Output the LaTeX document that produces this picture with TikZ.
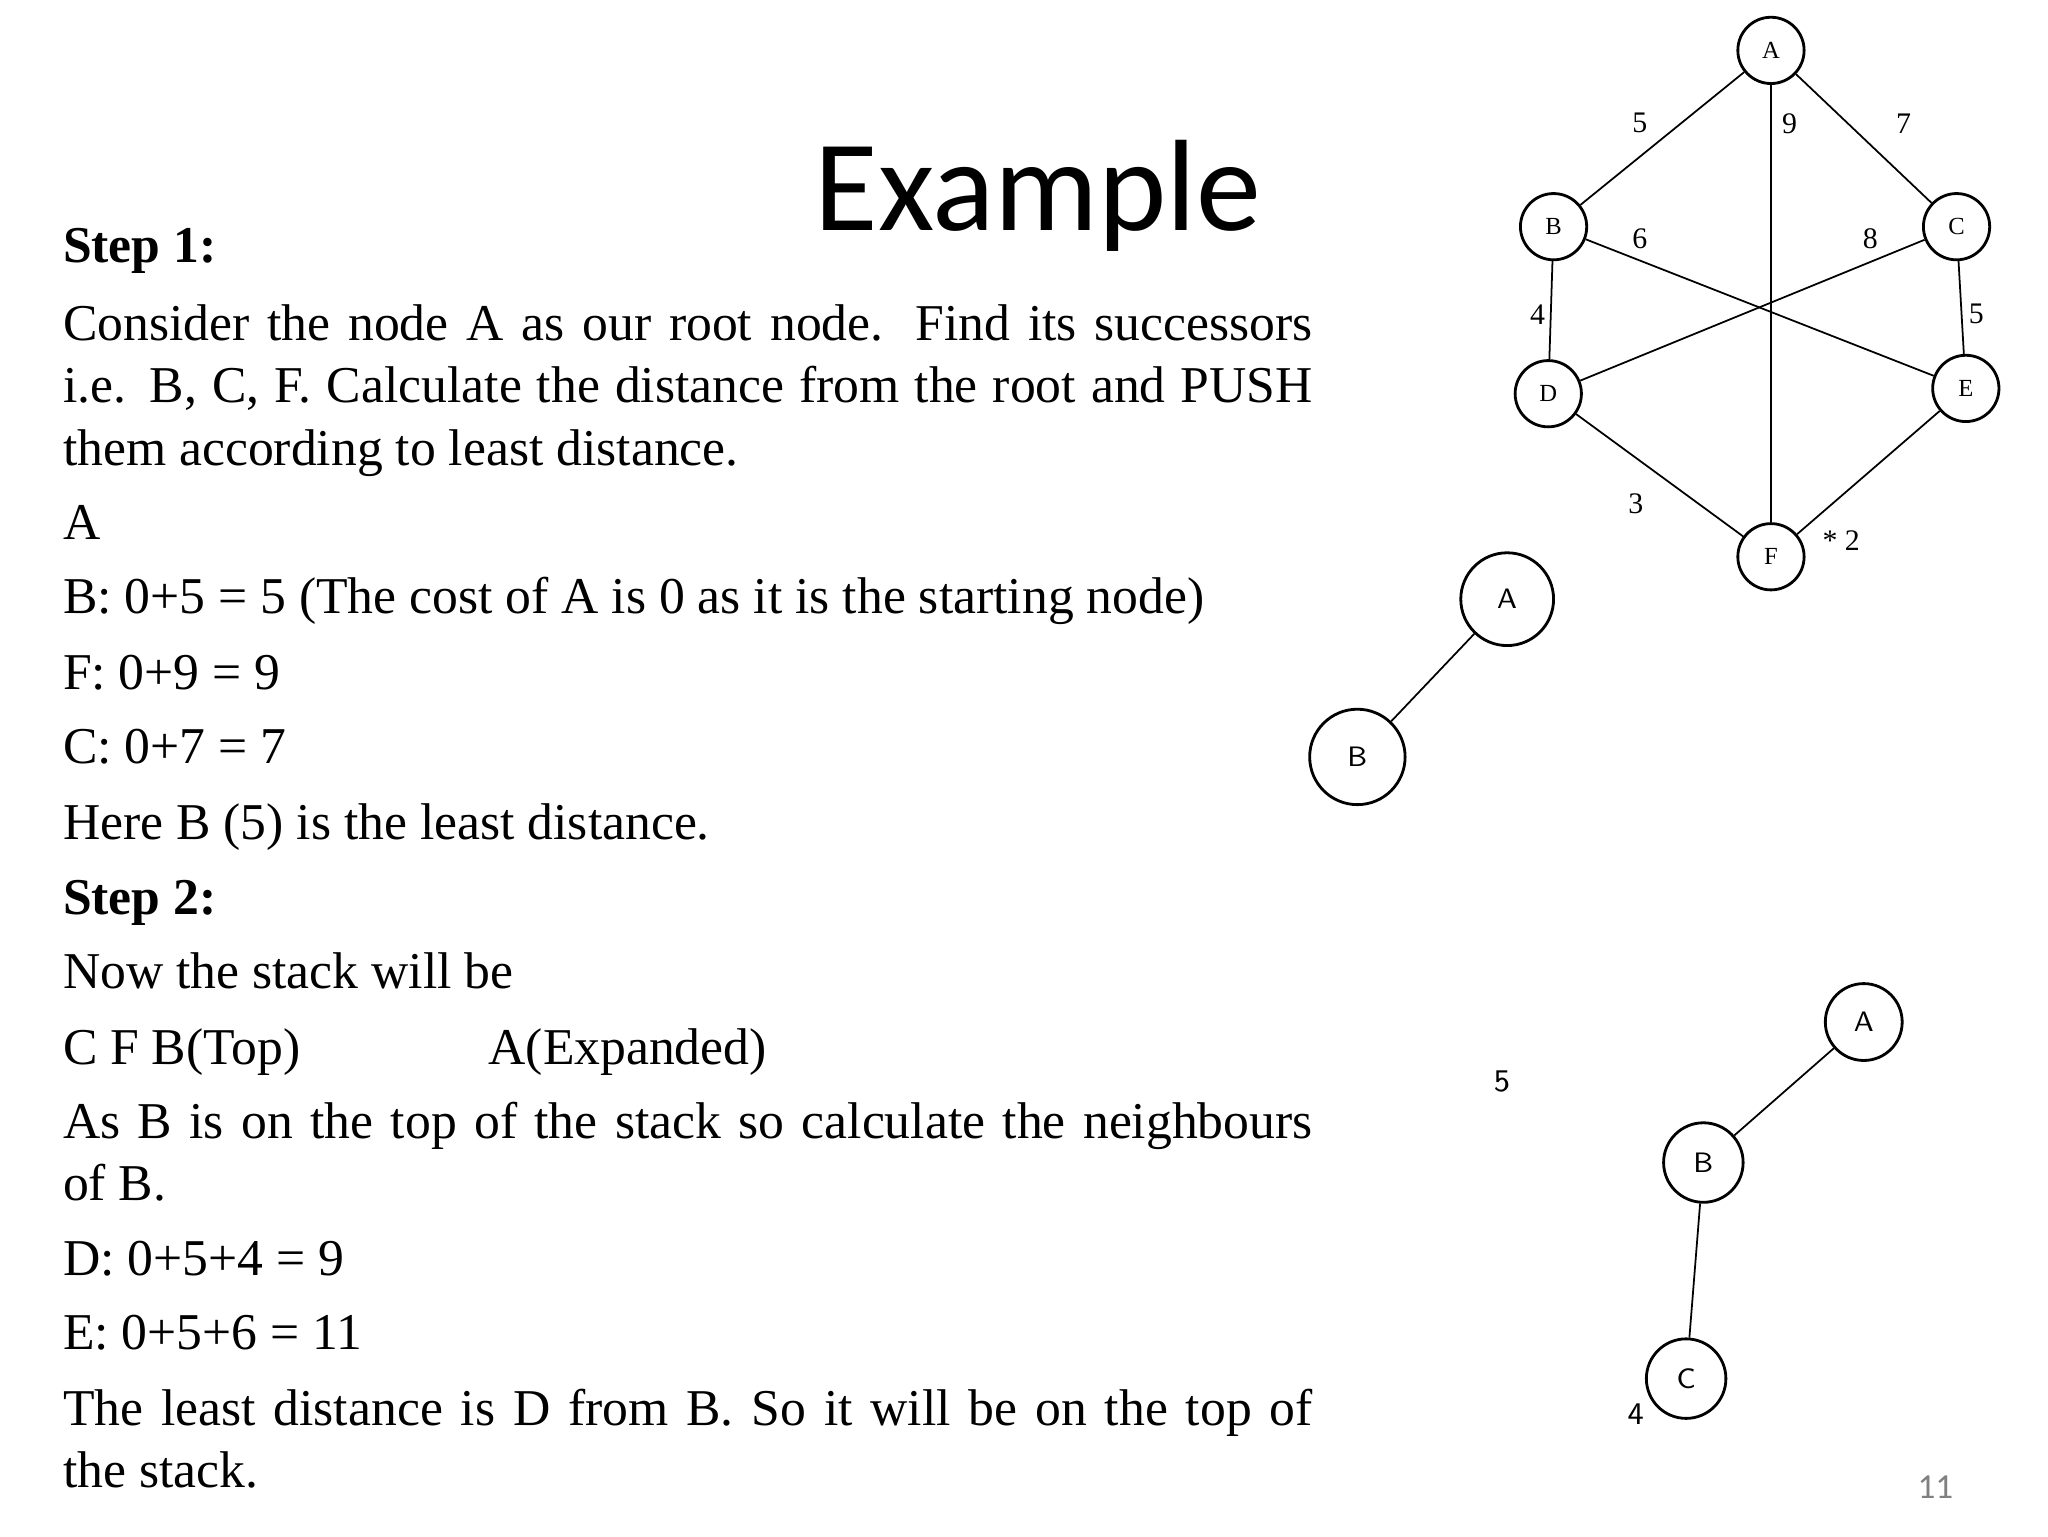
\documentclass[tikz,border=0pt]{standalone}
\usepackage{fontspec}
\setmainfont{Liberation Serif}
\newfontfamily\titlefont{Carlito}
\begin{document}
\begin{tikzpicture}[x=0.013256cm,y=-0.013256cm,
  txt/.style={anchor=base west,inner sep=0pt,font=\fontsize{14.7}{17}\selectfont},
  gn/.style={circle,draw,thick,minimum size=50*0.013256cm,inner sep=0pt,font=\fontsize{7}{8}\selectfont},
  tn/.style={circle,draw,thick,inner sep=0pt,font=\sffamily\fontsize{8}{9}\selectfont},
  el/.style={font=\fontsize{8.5}{9}\selectfont,inner sep=1pt},
  ed/.style={draw,line width=0.5pt}]
\useasboundingbox (0,0) rectangle (1545,1159);
\node[inner sep=0pt,font=\titlefont\fontsize{37}{40}\selectfont] (title) at (783,148) {Example};
\def\W{12.5cm}
\node[txt] (s1) at (47,198) {\textbf{Step 1:}};
\node[txt] (l1) at (47,257) {\makebox[\W][s]{Consider the node A as our root node. Find its successors}};
\node[txt] (l2) at (47,304) {\makebox[\W][s]{i.e. B, C, F. Calculate the distance from the root and PUSH}};
\node[txt] (l3) at (47,351) {them according to least distance.};
\node[txt] (l4) at (47,407) {A};
\node[txt] (l5) at (47,463) {B: 0+5 = 5 (The cost of A is 0 as it is the starting node)};
\node[txt] (l6) at (47,520) {F: 0+9 = 9};
\node[txt] (l7) at (47,576) {C: 0+7 = 7};
\node[txt] (l8) at (47,633) {Here B (5) is the least distance.};
\node[txt] (s2) at (47,690) {\textbf{Step 2:}};
\node[txt] (l9) at (47,746) {Now the stack will be};
\node[txt] (l10) at (47,803) {C F B(Top)};
\node[txt] (l10b) at (368,803) {A(Expanded)};
\node[txt] (l11) at (47,859) {\makebox[\W][s]{As B is on the top of the stack so calculate the neighbours}};
\node[txt] (l12) at (47,906) {of B.};
\node[txt] (l13) at (47,962) {D: 0+5+4 = 9};
\node[txt] (l14) at (47,1018) {E: 0+5+6 = 11};
\node[txt] (l15) at (47,1075) {\makebox[\W][s]{The least distance is D from B. So it will be on the top of}};
\node[txt] (l16) at (47,1122) {the stack.};
% graph
\node[gn] (A) at (1336,38) {A};
\node[gn] (B) at (1172,171) {B};
\node[gn] (C) at (1476,171) {C};
\node[gn] (D) at (1168,297) {D};
\node[gn] (E) at (1483,293) {E};
\node[gn] (F) at (1336,420) {F};
\draw[ed] (A) -- (B); \draw[ed] (A) -- (F); \draw[ed] (A) -- (C);
\draw[ed] (B) -- (E); \draw[ed] (C) -- (D); \draw[ed] (B) -- (D);
\draw[ed] (C) -- (E); \draw[ed] (D) -- (F); \draw[ed] (E) -- (F);
\node[el] (w1) at (1237,93) {5};
\node[el] (w2) at (1350,93) {9};
\node[el] (w3) at (1436,93) {7};
\node[el] (w4) at (1237,180) {6};
\node[el] (w5) at (1411,180) {8};
\node[el] (w6) at (1160,237) {4};
\node[el] (w7) at (1491,237) {5};
\node[el] (w8) at (1234,380) {3};
\node[el] (w9) at (1389,408) {* 2};
% tree 2
\node[tn,minimum size=70*0.013256cm] (A2) at (1137,452) {A};
\node[tn,minimum size=72*0.013256cm] (B2) at (1024,571) {B};
\draw[ed] (A2) -- (B2);
% tree 3
\node[tn,minimum size=58*0.013256cm] (A3) at (1406,771) {A};
\node[tn,minimum size=60*0.013256cm] (B3) at (1285,877) {B};
\node[tn,minimum size=60*0.013256cm] (C3) at (1272,1040) {C};
\draw[ed] (A3) -- (B3); \draw[ed] (B3) -- (C3);
\node[el,font=\sffamily\fontsize{9}{10}\selectfont] (n5) at (1133,816) {5};
\node[el,font=\sffamily\fontsize{9}{10}\selectfont] (n4) at (1234,1067) {4};
\node[inner sep=0pt,text=gray,font=\titlefont\fontsize{10}{12}\selectfont] (pg) at (1460,1122) {11};
\end{tikzpicture}
\end{document}
